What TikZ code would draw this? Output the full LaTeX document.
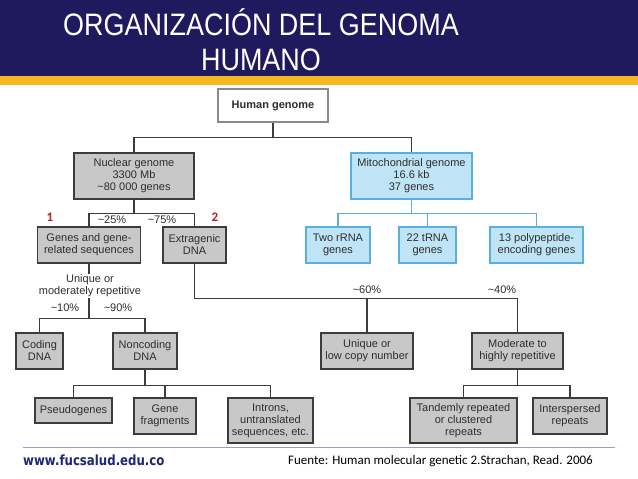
\documentclass[tikz,border=0pt]{standalone}
\usepackage{fontspec}
\usepackage{graphicx}
\setmainfont{Liberation Sans}
\newfontfamily\notefont{Carlito}
\newfontfamily\webfont{DejaVu Sans}
\usetikzlibrary{positioning,calc}
\definecolor{bandNavy}{HTML}{1F1A5E}
\definecolor{bandGold}{HTML}{F6B71C}
\definecolor{boxGrey}{HTML}{C8C8C8}
\definecolor{boxEdge}{HTML}{3C3C3C}
\definecolor{boxInk}{HTML}{2E2E2E}
\definecolor{mitoFill}{HTML}{BFE4F5}
\definecolor{mitoEdge}{HTML}{5AAFDC}
\definecolor{markRed}{HTML}{C8161D}
\definecolor{ruleLav}{HTML}{9A9CC8}
\definecolor{webNavy}{HTML}{1E2677}

\begin{document}
\begin{tikzpicture}[x=1pt,y=-1pt,font=\fontsize{11}{12}\selectfont,
  nucbox/.style={draw=boxEdge,fill=boxGrey,text=boxInk,line width=1.2pt,align=center,inner sep=1pt},
  mitobox/.style={draw=mitoEdge,fill=mitoFill,text=boxInk,line width=1.2pt,align=center,inner sep=1pt},
  link/.style={draw=boxEdge,line width=1.2pt},
  mitolink/.style={draw=mitoEdge,line width=1.2pt},
  pct/.style={text=boxInk,inner sep=1pt},
  marker/.style={text=markRed,font=\notefont\bfseries\fontsize{13}{13}\selectfont}]
  \useasboundingbox (0,0) rectangle (638,479);
  \fill[white] (0,0) rectangle (638,479);
  % title band
  \fill[bandNavy] (0,0) rectangle (638,76);
  \fill[bandGold] (0,76) rectangle (638,85);
  \node[anchor=base,text=white,inner sep=0pt] (ttlA) at (261,35)
    {\scalebox{0.87}[1]{\fontsize{31}{31}\selectfont ORGANIZACIÓN DEL GENOMA}};
  \node[anchor=base,text=white,inner sep=0pt] (ttlB) at (261,70)
    {\scalebox{0.87}[1]{\fontsize{31}{31}\selectfont HUMANO}};

  % top levels
  \node[draw=boxEdge!60,fill=white,line width=1.2pt,minimum width=110pt,minimum height=33pt,
        font=\bfseries\fontsize{11}{12}\selectfont,text=boxInk] (hg) at (273,105.5) {Human genome};
  \node[nucbox,minimum width=120pt,minimum height=46pt] (nuc) at (134,176)
    {Nuclear genome\\3300 Mb\\\textasciitilde80 000 genes};
  \node[mitobox,minimum width=121pt,minimum height=46pt] (mito) at (411.5,176)
    {Mitochondrial genome\\16.6 kb\\37 genes};
  \draw[link] (hg.south) -- ++(0,15) coordinate (hgj) -| (nuc.north);
  \draw[link] (hgj) -| (mito.north);

  % nuclear branch
  \node[nucbox,minimum width=103pt,minimum height=36pt] (genes) at (89,245)
    {Genes and gene-\\related sequences};
  \node[nucbox,minimum width=63pt,minimum height=36pt] (extra) at (194.5,245)
    {Extragenic\\DNA};
  \draw[link] (nuc.south) -- ++(0,14) coordinate (nucj) -| (genes.north);
  \draw[link] (nucj) -| (extra.north);
  \node[pct] (p25) at (112,220) {\textasciitilde25\%};
  \node[pct] (p75) at (162,220) {\textasciitilde75\%};
  \node[marker] (mk1) at (50,217) {1};
  \node[marker] (mk2) at (215,217) {2};

  % mitochondrial branch
  \node[mitobox,minimum width=64pt,minimum height=36pt] (rrna) at (338,245) {Two rRNA\\genes};
  \node[mitobox,minimum width=57pt,minimum height=36pt] (trna) at (427.5,245) {22 tRNA\\genes};
  \node[mitobox,minimum width=93pt,minimum height=36pt] (poly) at (536.5,245)
    {13 polypeptide-\\encoding genes};
  \draw[mitolink] (mito.south) -- ++(0,14) coordinate (mitoj);
  \draw[mitolink] (rrna.north) |- (mitoj) -| (poly.north);
  \draw[mitolink] (trna.north) -- (trna.north |- mitoj);

  % genes and gene-related sequences
  \node[nucbox,minimum width=47pt,minimum height=36pt] (coding) at (39.5,351) {Coding\\DNA};
  \node[nucbox,minimum width=64pt,minimum height=36pt] (noncod) at (145,351) {Noncoding\\DNA};
  \draw[link] (genes.south) -- ++(0,55) coordinate (genj) -| (coding.north);
  \draw[link] (genj) -| (noncod.north);
  \node[pct,fill=white,align=center] (uniqrep) at (90,286) {Unique or\\moderately repetitive};
  \node[pct] (p10) at (65,308) {\textasciitilde10\%};
  \node[pct] (p90) at (118,308) {\textasciitilde90\%};

  \node[nucbox,minimum width=77pt,minimum height=25pt] (pseudo) at (73.5,410.5) {Pseudogenes};
  \node[nucbox,minimum width=62pt,minimum height=36pt] (frag) at (165,416) {Gene\\fragments};
  \node[nucbox,minimum width=85pt,minimum height=45pt] (intron) at (270.5,420.5)
    {Introns,\\untranslated\\sequences, etc.};
  \draw[link] (noncod.south) -- ++(0,16) coordinate (ncj);
  \draw[link] (pseudo.north) |- (ncj) -| (intron.north);
  \draw[link] (frag.north) -- (frag.north |- ncj);

  % extragenic DNA
  \node[nucbox,minimum width=92pt,minimum height=36pt] (lowcopy) at (367,351)
    {Unique or\\low copy number};
  \node[nucbox,minimum width=91pt,minimum height=36pt] (moder) at (517.5,351)
    {Moderate to\\highly repetitive};
  \draw[link] (extra.south) -- ++(0,35) coordinate (exj) -| (moder.north);
  \draw[link] (lowcopy.north) -- (lowcopy.north |- exj);
  \node[pct] (p60) at (367,290) {\textasciitilde60\%};
  \node[pct] (p40) at (502,290) {\textasciitilde40\%};

  \node[nucbox,minimum width=107pt,minimum height=45pt] (tandem) at (463.5,420.5)
    {Tandemly repeated\\or clustered\\repeats};
  \node[nucbox,minimum width=74pt,minimum height=36pt] (inter) at (570,416)
    {Interspersed\\repeats};
  \draw[link] (moder.south) -- ++(0,16) coordinate (modj);
  \draw[link] (tandem.north) |- (modj) -| (inter.north);

  % footer
  \draw[ruleLav,line width=1pt] (23,447) -- (615,447);
  \node[anchor=base west,inner sep=0pt,text=webNavy,font=\webfont\bfseries\fontsize{14}{14}\selectfont] (web) at (23,465)
    {\scalebox{0.84}[1]{www.fucsalud.edu.co}};
  \node[anchor=base west,inner sep=0pt,font=\notefont\fontsize{13}{13}\selectfont] (src) at (288,464)
    {Fuente: Human molecular genetic 2.Strachan, Read. 2006};
\end{tikzpicture}
\end{document}
